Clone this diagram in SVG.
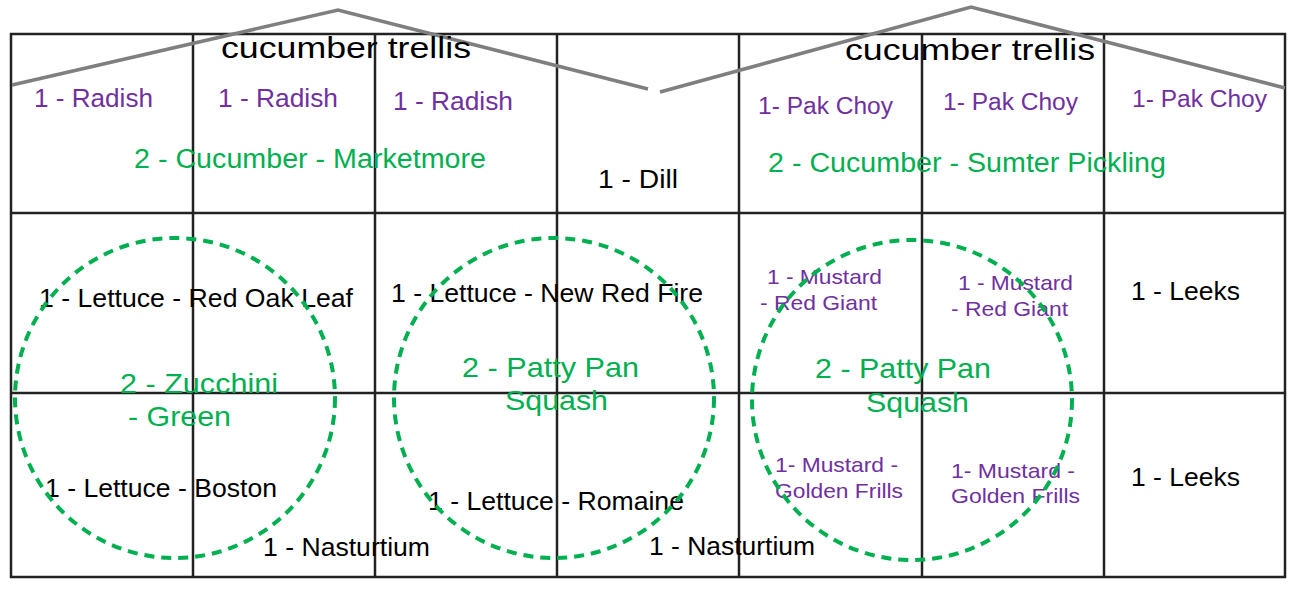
<svg xmlns="http://www.w3.org/2000/svg" width="1295" height="591" viewBox="0 0 1295 591">
<style>
  text { font-family: "Liberation Sans", Arial, sans-serif; }
  .grid { fill: none; stroke: #222; stroke-width: 2.5; }
  .trellis { fill: none; stroke: #7f7f7f; stroke-width: 3.5; stroke-linejoin: miter; }
  .circ { fill: none; stroke: #00b050; stroke-width: 4; stroke-dasharray: 10 7; }
  .blk { fill: #000; }
  .pur { fill: #7030a0; }
  .grn { fill: #00b050; }
</style>
<rect width="1295" height="591" fill="#fff"/>
<g id="grid">
  <rect class="grid" x="11" y="34" width="1274" height="543"/>
  <path class="grid" d="M193 34V577M375 34V577M557 34V577M739 34V577M922 34V577M1104 34V577M11 213H1285M11 393H1285"/>
</g>
<g id="trellis">
  <polyline class="trellis" points="12,85 338,10 648,89"/>
  <polyline class="trellis" points="660,92 971,7 1285,88"/>
  <text class="blk" x="221" y="58" font-size="30" textLength="250" lengthAdjust="spacingAndGlyphs">cucumber trellis</text>
  <text class="blk" x="845" y="60" font-size="30" textLength="250" lengthAdjust="spacingAndGlyphs">cucumber trellis</text>
</g>
<g id="row1">
  <text class="pur" x="34" y="107" font-size="25" textLength="119" lengthAdjust="spacingAndGlyphs">1 - Radish</text>
  <text class="pur" x="218" y="107" font-size="25" textLength="120" lengthAdjust="spacingAndGlyphs">1 - Radish</text>
  <text class="pur" x="393" y="110" font-size="25" textLength="120" lengthAdjust="spacingAndGlyphs">1 - Radish</text>
  <text class="grn" x="134" y="168" font-size="27" textLength="352" lengthAdjust="spacingAndGlyphs">2 - Cucumber - Marketmore</text>
  <text class="blk" x="598" y="188" font-size="26" textLength="80" lengthAdjust="spacingAndGlyphs">1 - Dill</text>
  <text class="pur" x="758" y="114" font-size="23" textLength="135" lengthAdjust="spacingAndGlyphs">1- Pak Choy</text>
  <text class="pur" x="943" y="110" font-size="23" textLength="135" lengthAdjust="spacingAndGlyphs">1- Pak Choy</text>
  <text class="pur" x="1132" y="107" font-size="23" textLength="135" lengthAdjust="spacingAndGlyphs">1- Pak Choy</text>
  <text class="grn" x="768" y="172" font-size="27" textLength="398" lengthAdjust="spacingAndGlyphs">2 - Cucumber - Sumter Pickling</text>
</g>
<g id="lettuce">
  <text class="blk" x="39" y="307" font-size="25" textLength="314" lengthAdjust="spacingAndGlyphs">1 - Lettuce - Red Oak Leaf</text>
  <text class="blk" x="391" y="302" font-size="25" textLength="312" lengthAdjust="spacingAndGlyphs">1 - Lettuce - New Red Fire</text>
  <text class="blk" x="45" y="497" font-size="25" textLength="232" lengthAdjust="spacingAndGlyphs">1 - Lettuce - Boston</text>
  <text class="blk" x="428" y="510" font-size="25" textLength="256" lengthAdjust="spacingAndGlyphs">1 - Lettuce - Romaine</text>
  <text class="blk" x="263" y="556" font-size="25" textLength="167" lengthAdjust="spacingAndGlyphs">1 - Nasturtium</text>
  <text class="blk" x="649" y="555" font-size="25" textLength="166" lengthAdjust="spacingAndGlyphs">1 - Nasturtium</text>
</g>
<g id="mustard">
  <text class="pur" x="767" y="284" font-size="21" textLength="115" lengthAdjust="spacingAndGlyphs">1 - Mustard</text>
  <text class="pur" x="760" y="310" font-size="21" textLength="117" lengthAdjust="spacingAndGlyphs">- Red Giant</text>
  <text class="pur" x="958" y="290" font-size="21" textLength="115" lengthAdjust="spacingAndGlyphs">1 - Mustard</text>
  <text class="pur" x="951" y="316" font-size="21" textLength="117" lengthAdjust="spacingAndGlyphs">- Red Giant</text>
  <text class="pur" x="775" y="472" font-size="21" textLength="123" lengthAdjust="spacingAndGlyphs">1- Mustard -</text>
  <text class="pur" x="775" y="498" font-size="21" textLength="128" lengthAdjust="spacingAndGlyphs">Golden Frills</text>
  <text class="pur" x="951" y="478" font-size="21" textLength="124" lengthAdjust="spacingAndGlyphs">1- Mustard -</text>
  <text class="pur" x="951" y="503" font-size="21" textLength="129" lengthAdjust="spacingAndGlyphs">Golden Frills</text>
  <text class="blk" x="1131" y="300" font-size="25" textLength="109" lengthAdjust="spacingAndGlyphs">1 - Leeks</text>
  <text class="blk" x="1131" y="486" font-size="25" textLength="109" lengthAdjust="spacingAndGlyphs">1 - Leeks</text>
</g>
<g id="squash">
  <circle class="circ" cx="175" cy="398" r="160"/>
  <circle class="circ" cx="554" cy="398" r="160"/>
  <circle class="circ" cx="912" cy="400" r="160"/>
  <text class="grn" x="120" y="393" font-size="28" textLength="158" lengthAdjust="spacingAndGlyphs">2 - Zucchini</text>
  <text class="grn" x="128" y="426" font-size="28" textLength="103" lengthAdjust="spacingAndGlyphs">- Green</text>
  <text class="grn" x="462" y="377" font-size="28" textLength="177" lengthAdjust="spacingAndGlyphs">2 - Patty Pan</text>
  <text class="grn" x="505" y="410" font-size="28" textLength="103" lengthAdjust="spacingAndGlyphs">Squash</text>
  <text class="grn" x="815" y="378" font-size="28" textLength="176" lengthAdjust="spacingAndGlyphs">2 - Patty Pan</text>
  <text class="grn" x="866" y="412" font-size="28" textLength="103" lengthAdjust="spacingAndGlyphs">Squash</text>
</g>
</svg>
